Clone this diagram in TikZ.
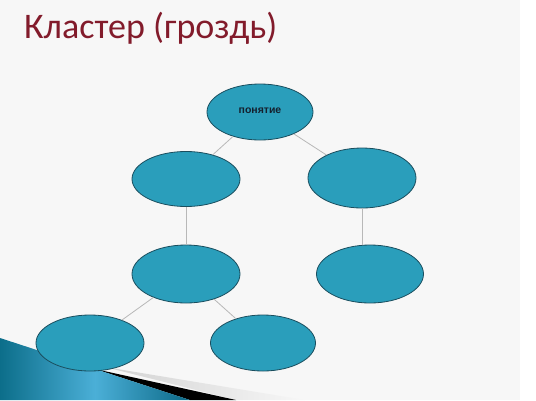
\documentclass[tikz,border=0pt]{standalone}
\usepackage{fontspec}
\setmainfont{Carlito}
\newfontfamily\nodefont{Liberation Sans}
\usetikzlibrary{shapes.geometric}
\definecolor{bgcol}{HTML}{F7F7F7}
\definecolor{titlered}{HTML}{821B2B}
\definecolor{elfill}{HTML}{2A9EBB}
\definecolor{eldraw}{HTML}{1A4E5E}
\definecolor{linegray}{HTML}{B8B8B8}
\definecolor{navytext}{HTML}{15202E}
\tikzset{
  bubble/.style={ellipse, draw=eldraw, line width=0.8pt, fill=elfill, inner sep=0pt},
  link/.style={draw=linegray, line width=0.8pt},
}
\begin{document}
\begin{tikzpicture}[x=1pt,y=-1pt]
\useasboundingbox (0,0) rectangle (536,400);
\fill[bgcol] (0,0) rectangle (536,400);
\fill[white] (520,0) rectangle (536,400);
% bottom-left decoration
\shade[left color=gray!35, right color=bgcol] (105,367) -- (236,400) -- (305,400) -- cycle;
\fill[black] (95,369) -- (190,400) -- (236,400) -- cycle;
\shade[left color={rgb,255:red,12;green,110;blue,138}, right color={rgb,255:red,12;green,105;blue,135}, middle color={rgb,255:red,75;green,175;blue,215}] (0,338) -- (190,400) -- (0,400) -- cycle;
% title
\node[anchor=base west, inner sep=0pt, text=titlered, font=\fontsize{36}{36}\selectfont] (title) at (24,38) {Кластер (гроздь)};
% nodes
\node[bubble, minimum width=106pt, minimum height=56pt] (top) at (260,112) {};
\node[anchor=center, inner sep=0pt, text=navytext, font=\nodefont\bfseries\fontsize{10.5}{10.5}\selectfont] (toptext) at (260,111) {понятие};
\node[bubble, minimum width=108pt, minimum height=55pt] (l2) at (186,179) {};
\node[bubble, minimum width=108pt, minimum height=60pt] (r2) at (362,178) {};
\node[bubble, minimum width=108pt, minimum height=58pt] (l3) at (186,274) {};
\node[bubble, minimum width=107pt, minimum height=58pt] (r3) at (370,274) {};
\node[bubble, minimum width=108pt, minimum height=56pt] (bl) at (90,343) {};
\node[bubble, minimum width=105pt, minimum height=56pt] (br) at (263,343) {};
% links
\draw[link] (top) -- (l2);
\draw[link] (top) -- (r2);
\draw[link] (l2) -- (l3);
\draw[link] (r2.south) -- (r2.south |- r3.north);
\draw[link] (l3) -- (bl);
\draw[link] (l3) -- (br);
\end{tikzpicture}
\end{document}
